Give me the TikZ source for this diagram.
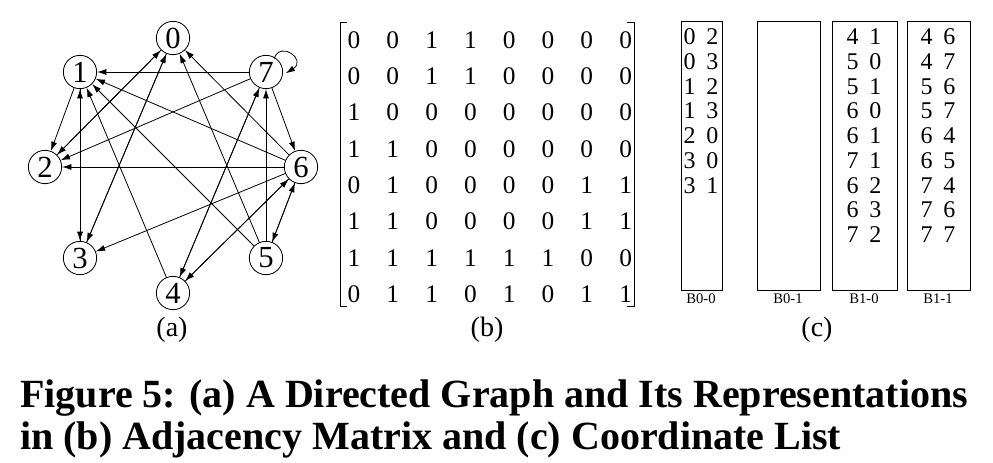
\documentclass[tikz,border=0pt]{standalone}
\usepackage{fontspec}
\setmainfont{Liberation Serif}
\newfontfamily\capfont{Liberation Serif}
\usetikzlibrary{arrows.meta}
\begin{document}
\begin{tikzpicture}[x=0.75pt,y=-0.75pt,
  vert/.style={circle,draw,semithick,minimum size=25pt,inner sep=0pt,font=\fontsize{23}{23}\selectfont},
  edge/.style={-{Latex[length=7pt,width=4.5pt]},line width=0.6pt},
  ent/.style={font=\fontsize{19}{19}\selectfont},
  lst/.style={font=\fontsize{18}{18}\selectfont},
  sub/.style={font=\fontsize{21}{21}\selectfont},
  tiny/.style={font=\fontsize{11}{11}\selectfont}]
\useasboundingbox (0,0) rectangle (993,462);
\node[vert] (v0) at (173,38) {0};
\node[vert] (v1) at (80,72) {1};
\node[vert] (v2) at (45,167) {2};
\node[vert] (v3) at (80,258) {3};
\node[vert] (v4) at (173,293) {4};
\node[vert] (v5) at (266,258) {5};
\node[vert] (v6) at (301,167) {6};
\node[vert] (v7) at (266,72) {7};
\foreach \a/\b in {0/2,0/3,1/2,1/3,2/0,3/0,3/1,4/1,4/6,4/7,5/0,5/1,5/6,5/7,6/0,6/1,6/2,6/3,6/4,6/5,7/1,7/2,7/4,7/6}
  \draw[edge] (v\a) -- (v\b);
\draw[edge] (v7.north east) ++(-3pt,1pt) coordinate (lp) .. controls ++(5pt,14pt) and ++(16pt,10pt) .. ([xshift=2pt,yshift=-1pt]v7.east);
\node[sub] (la) at (172,330) {(a)};
% matrix
\draw[semithick] (347,22) -- (340,22) -- (340,306) -- (347,306);
\draw[semithick] (627,22) -- (634,22) -- (634,306) -- (627,306);
\foreach \r [count=\i from 0] in {{0,0,1,1,0,0,0,0},{0,0,1,1,0,0,0,0},{1,0,0,0,0,0,0,0},{1,1,0,0,0,0,0,0},{0,1,0,0,0,0,1,1},{1,1,0,0,0,0,1,1},{1,1,1,1,1,1,0,0},{0,1,1,0,1,0,1,1}}
  \foreach \v [count=\j from 0] in \r
    \node[ent] (m\i\j) at (354+38.8*\j,40+36.3*\i) {\v};
\node[sub] (lb) at (487,330) {(b)};
% lists
\draw (681,21) rectangle (722,290);
\draw (757,21) rectangle (820,290);
\draw (832,21) rectangle (897,290);
\draw (907,21) rectangle (970,290);
\foreach \p/\q [count=\i from 0] in {0/2,0/3,1/2,1/3,2/0,3/0,3/1}
  \node[lst] (a\i) at (701,37+24.7*\i) {\p\hspace{0.45em}\q};
\foreach \p/\q [count=\i from 0] in {4/1,5/0,5/1,6/0,6/1,7/1,6/2,6/3,7/2}
  \node[lst] (c\i) at (864,37+24.7*\i) {\p\hspace{0.45em}\q};
\foreach \p/\q [count=\i from 0] in {4/6,4/7,5/6,5/7,6/4,6/5,7/4,7/6,7/7}
  \node[lst] (d\i) at (938,37+24.7*\i) {\p\hspace{0.45em}\q};
\node[tiny] (t0) at (701,299) {B0-0};
\node[tiny] (t1) at (788,299) {B0-1};
\node[tiny] (t2) at (864,299) {B1-0};
\node[tiny] (t3) at (938,299) {B1-1};
\node[sub] (lc) at (817,330) {(c)};
\node[anchor=west,font=\capfont\bfseries\fontsize{30}{30}\selectfont,inner sep=0pt] (cap1) at (20,398) {Figure 5: (a) A Directed Graph and Its Representations};
\node[anchor=west,font=\capfont\bfseries\fontsize{30}{30}\selectfont,inner sep=0pt] (cap2) at (20,440) {in (b) Adjacency Matrix and (c) Coordinate List};
\end{tikzpicture}
\end{document}
